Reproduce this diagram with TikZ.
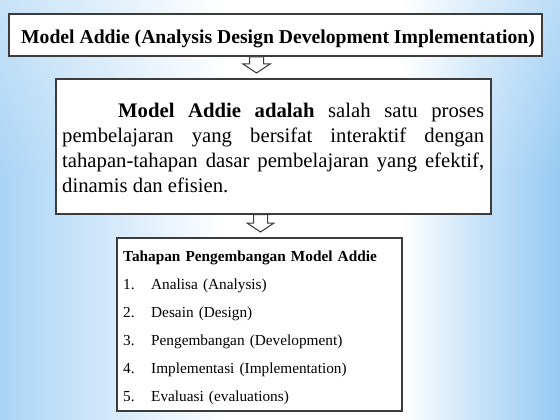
\documentclass[tikz,border=0pt]{standalone}
\usepackage{fontspec}
\setmainfont{Liberation Serif}
\usetikzlibrary{calc,fadings}
\definecolor{bgleft}{RGB}{170,212,245}
\definecolor{bgright}{RGB}{150,202,243}
\definecolor{boxline}{RGB}{60,60,60}
\pgfdeclarehorizontalshading{bgshade}{100bp}{color(0bp)=(bgleft); color(25bp)=(bgleft); color(45bp)=(white); color(61bp)=(white); color(68bp)=(bgright!55!white); color(75bp)=(bgright); color(100bp)=(bgright)}
\tikzset{
  box/.style={draw=boxline, line width=1.3pt, fill=white, rectangle, inner sep=0pt},
  boxtext/.style={inner sep=0pt, anchor=north west},
  blockarrow/.style={draw=boxline, line width=1pt, fill=white, line join=miter},
}
\begin{document}
\begin{tikzpicture}[x=1pt,y=-1pt]
\useasboundingbox (0,0) rectangle (560,420);
\fill[shading=bgshade] (0,0) rectangle (560,420);
\fill[white, opacity=0.35, path fading=south] (0,0) rectangle (560,180);
% boxes
\node[box, minimum width=533pt, minimum height=42pt] (title) at (275.5,35) {};
\node[inner sep=0pt, anchor=base, font=\fontsize{19.65}{23}\selectfont\bfseries] (titletext) at (278,43.5)
  {Model Addie (Analysis Design Development Implementation)};
\node[box, minimum width=435pt, minimum height=135pt] (def) at (273.5,146.5) {};
\node[boxtext, text width=422pt, align=justify, font=\fontsize{20.7}{25}\selectfont] (deftext) at (62,103)
  {\hyphenpenalty=10000\hspace*{56pt}\textbf{Model Addie adalah} salah satu proses\linebreak pembelajaran yang bersifat interaktif dengan\linebreak tahapan-tahapan dasar pembelajaran yang efektif,\linebreak dinamis dan efisien.};
\node[box, minimum width=285pt, minimum height=173pt] (steps) at (259.5,324.5) {};
\node[boxtext, text width=273pt, align=left, font=\fontsize{15.3}{28}\selectfont] (stepstext) at (123,250.5)
  {\textbf{Tahapan Pengembangan Model Addie}\\
   \makebox[28pt][l]{1.}Analisa (Analysis)\\
   \makebox[28pt][l]{2.}Desain (Design)\\
   \makebox[28pt][l]{3.}Pengembangan (Development)\\
   \makebox[28pt][l]{4.}Implementasi (Implementation)\\
   \makebox[28pt][l]{5.}Evaluasi (evaluations)};
% block arrows
\coordinate (a1) at (256.5,57);
\coordinate (a2) at (260.5,214.5);
\draw[blockarrow] ($(a1)+(-7,0)$) -- ($(a1)+(7,0)$) -- ($(a1)+(7,7)$) -- ($(a1)+(13.5,7)$) -- ($(a1)+(0,16)$) -- ($(a1)+(-13.5,7)$) -- ($(a1)+(-7,7)$) -- cycle;
\draw[blockarrow] ($(a2)+(-7,0)$) -- ($(a2)+(7,0)$) -- ($(a2)+(7,8.5)$) -- ($(a2)+(13.5,8.5)$) -- ($(a2)+(0,17.5)$) -- ($(a2)+(-13.5,8.5)$) -- ($(a2)+(-7,8.5)$) -- cycle;
\end{tikzpicture}
\end{document}
